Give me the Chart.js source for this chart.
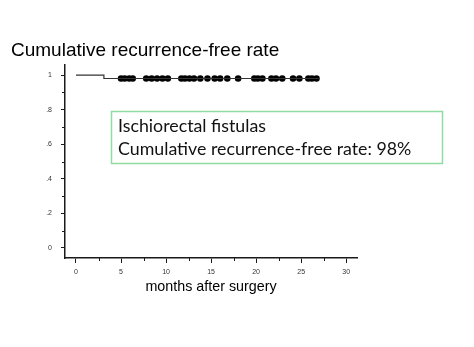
<!DOCTYPE html>
<html>
<head>
<meta charset="utf-8">
<script src="https://cdn.jsdelivr.net/npm/chart.js@4/dist/chart.umd.min.js"></script>
<style>
  html, body { margin: 0; padding: 0; background: #fff; }
  #wrap { position: relative; width: 474px; height: 347px; }
</style>
</head>
<body>
<div id="wrap"><canvas id="c" width="474" height="347"></canvas></div>
<script>
// Kaplan–Meier curve corners: time (months) and recurrence-free rate
const stepMonths = [0, 3.1, 3.1, 27.0];
const stepRate = [1, 1, 0.98, 0.98];

// Censored observations (months after surgery), all on the 0.98 plateau
const censoredMonths = [5.0, 5.4, 5.9, 6.3, 7.8, 8.4, 9.0, 9.6, 10.2, 11.7, 12.1, 12.6, 13.1,
  13.8, 14.6, 15.4, 16.0, 16.8, 18.0, 19.8, 20.2, 20.7, 21.7, 22.2, 22.9, 24.1, 24.8,
  25.8, 26.2, 26.7];
const censoredRate = censoredMonths.map(() => 0.98);

const xTickValues = [0, 5, 10, 15, 20, 25, 30];
const yTickValues = [0, 0.2, 0.4, 0.6, 0.8, 1];
const yTickLabels = ['0', '.2', '.4', '.6', '.8', '1'];
const xMinorValues = [2.5, 7.5, 12.5, 17.5, 22.5, 27.5];
const yMinorValues = [0.1, 0.3, 0.5, 0.7, 0.9];

const titleText = 'Cumulative recurrence-free rate';
const noteLines = ['Ischiorectal fistulas', 'Cumulative recurrence-free rate: 98%'];

const axisColor = '#1a1a1a';

// Small ticks between the labelled ones, plus heading and note box
const decorations = {
  id: 'decorations',
  afterDraw(chart) {
    const ctx = chart.ctx;
    const xs = chart.scales.x, ys = chart.scales.y;
    const area = chart.chartArea;
    ctx.save();
    ctx.strokeStyle = axisColor;
    ctx.lineWidth = 1;
    ctx.beginPath();
    xMinorValues.forEach(v => {
      const px = Math.round(xs.getPixelForValue(v)) + 0.5;
      ctx.moveTo(px, area.bottom);
      ctx.lineTo(px, area.bottom + 3);
    });
    yMinorValues.forEach(v => {
      const py = Math.round(ys.getPixelForValue(v)) + 0.5;
      ctx.moveTo(area.left, py);
      ctx.lineTo(area.left - 3, py);
    });
    ctx.stroke();

    // heading
    ctx.fillStyle = '#000';
    ctx.font = '19px "Liberation Sans", Arial, sans-serif';
    ctx.textBaseline = 'alphabetic';
    ctx.textAlign = 'left';
    ctx.fillText(titleText, 11, 56);

    // note box
    ctx.strokeStyle = '#8fdca0';
    ctx.lineWidth = 1.5;
    ctx.strokeRect(111.5, 111.5, 331, 52);
    ctx.font = '17.8px Lato, "Open Sans", sans-serif';
    ctx.fillStyle = '#111';
    ctx.fillText(noteLines[0], 118, 132);
    ctx.fillText(noteLines[1], 118, 155);
    ctx.restore();
  }
};

new Chart(document.getElementById('c'), {
  type: 'scatter',
  data: {
    datasets: [
      {
        data: stepMonths.map((m, i) => ({ x: m, y: stepRate[i] })),
        showLine: true,
        borderColor: '#333',
        borderWidth: 1.2,
        pointRadius: 0,
        fill: false
      },
      {
        data: censoredMonths.map((m, i) => ({ x: m, y: censoredRate[i] })),
        showLine: false,
        pointRadius: 3.3,
        pointBackgroundColor: '#000',
        pointBorderColor: '#000',
        pointBorderWidth: 0
      }
    ]
  },
  options: {
    responsive: false,
    animation: false,
    devicePixelRatio: 1,
    layout: { padding: { left: 35, right: 117, top: 65, bottom: 44 } },
    plugins: { legend: { display: false }, tooltip: { enabled: false }, title: { display: false } },
    scales: {
      x: {
        type: 'linear',
        min: -1.22,
        max: 31.2,
        afterFit(s) { s.height = 45; },
        afterBuildTicks(s) { s.ticks = xTickValues.map(v => ({ value: v })); },
        ticks: {
          color: '#333',
          font: { size: 7, family: '"Liberation Sans", Arial, sans-serif' },
          padding: 5,
          maxRotation: 0,
          autoSkip: false
        },
        grid: { drawOnChartArea: false, drawTicks: true, tickLength: 5, color: axisColor, lineWidth: 1 },
        border: { display: true, color: axisColor, width: 1.5 },
        title: {
          display: true,
          text: 'months after surgery',
          color: '#000',
          font: { size: 14.3, family: '"Liberation Sans", Arial, sans-serif' },
          padding: { top: 0, bottom: 7 }
        }
      },
      y: {
        type: 'linear',
        min: -0.058,
        max: 1.058,
        afterFit(s) { s.width = 30; },
        afterBuildTicks(s) { s.ticks = yTickValues.map(v => ({ value: v })); },
        ticks: {
          color: '#333',
          font: { size: 7, family: '"Liberation Sans", Arial, sans-serif' },
          padding: 9,
          autoSkip: false,
          callback: (v) => yTickLabels[yTickValues.findIndex(t => Math.abs(t - v) < 1e-6)]
        },
        grid: { drawOnChartArea: false, drawTicks: true, tickLength: 4, color: axisColor, lineWidth: 1 },
        border: { display: true, color: axisColor, width: 1.5 }
      }
    }
  },
  plugins: [decorations]
});
</script>
</body>
</html>
